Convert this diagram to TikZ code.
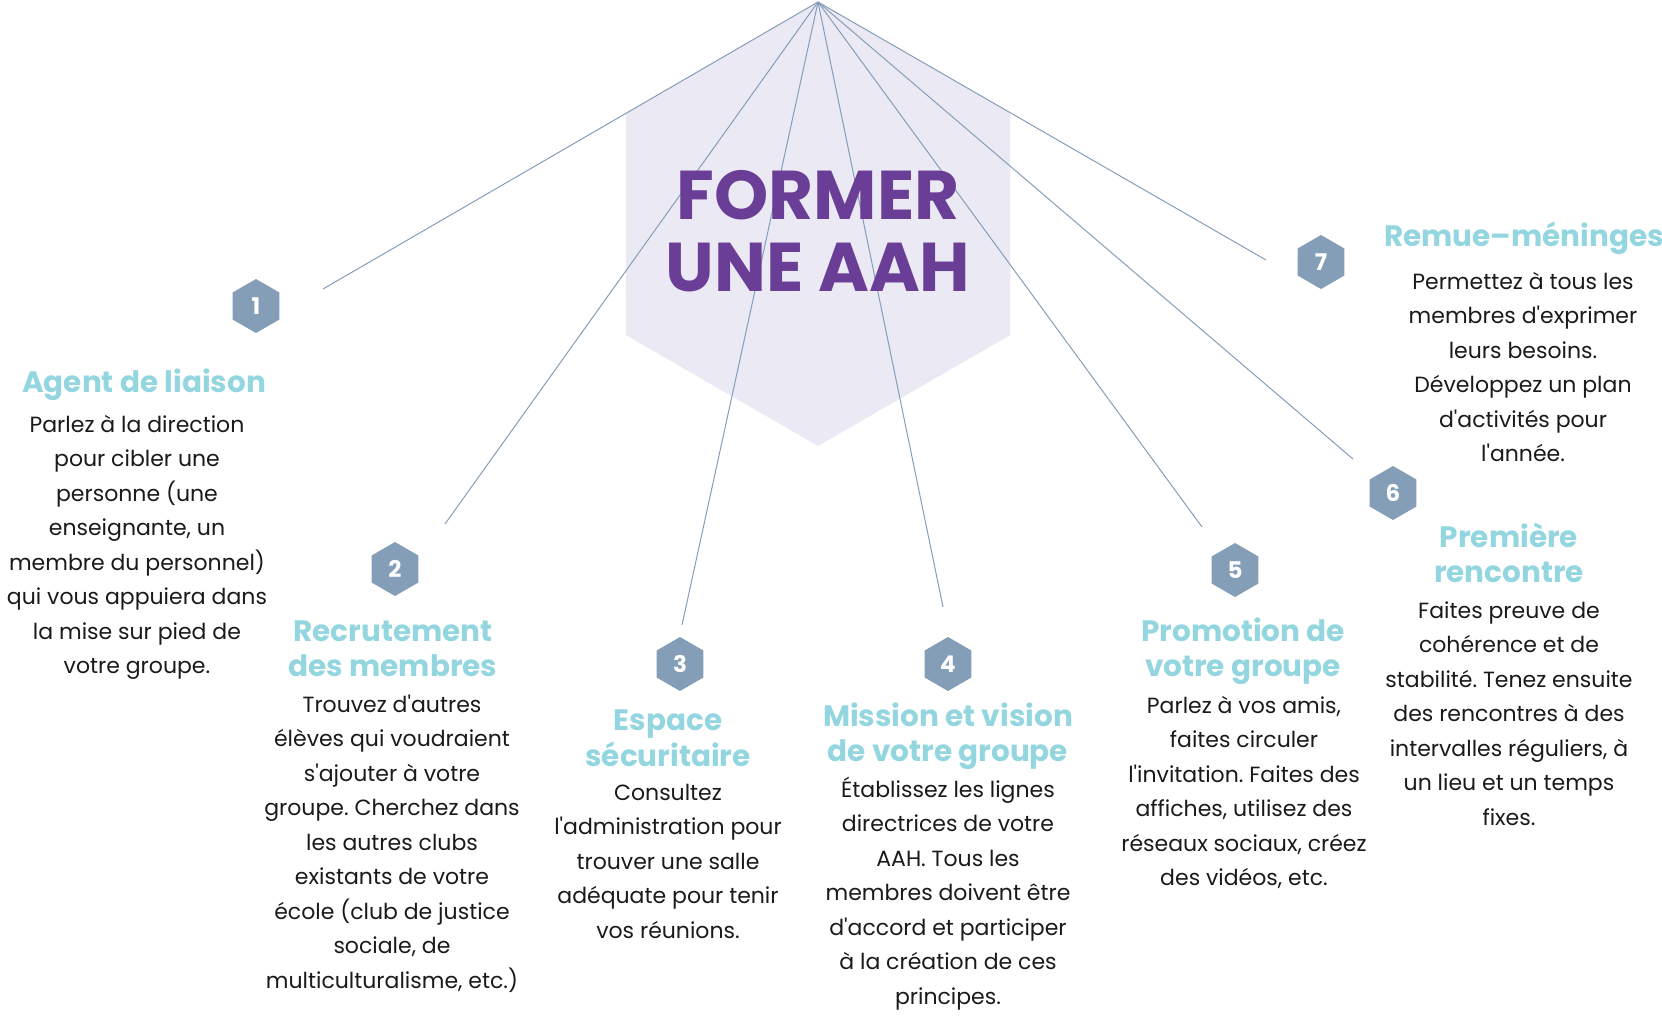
\documentclass[tikz,border=0pt]{standalone}
\usepackage{fontspec}
\setmainfont{Poppins}[Ligatures=TeXOff]
\usetikzlibrary{shapes.geometric}
\definecolor{hubfill}{RGB}{235,233,244}
\definecolor{plum}{RGB}{106,61,150}
\definecolor{slate}{RGB}{133,158,184}
\definecolor{aqua}{RGB}{147,214,223}
\definecolor{ink}{RGB}{26,26,26}
\frenchspacing

\begin{document}
\begin{tikzpicture}[x=1pt, y=-1pt,
    hub/.style={regular polygon, regular polygon sides=6, shape border rotate=30,
                fill=hubfill, minimum size=444pt, inner sep=0pt, outer sep=0pt},
    stepnum/.style={regular polygon, regular polygon sides=6, shape border rotate=30,
                fill=slate, minimum size=54pt, inner sep=0pt, outer sep=0pt,
                text=white, font=\fontsize{23}{23}\selectfont\bfseries},
    spoke/.style={draw=slate, line width=1pt},
    head/.style={font=\fontsize{29.5}{35}\selectfont\bfseries, text=aqua,
                 align=center, inner sep=0pt, anchor=north, yshift=24.5pt},
    body/.style={font=\fontsize{22}{34.5}\selectfont, text=ink,
                 align=center, inner sep=0pt, anchor=north, yshift=24.15pt},
]
\useasboundingbox (0,0) rectangle (1662,1023);

% ─── Central hexagon ─────────────────────────────────────────────
\node[hub] (hub) at (818, 224) {};
\coordinate (apex) at (818, 2);

% ─── Free ends of the spokes ─────────────────────────────────────
\coordinate (e1) at (323, 289);
\coordinate (e2) at (445, 524);
\coordinate (e3) at (682, 625);
\coordinate (e4) at (943, 607);
\coordinate (e5) at (1202, 527);
\coordinate (e6) at (1353, 459);
\coordinate (e7) at (1266, 260);

\foreach \i in {1,...,7}
  \draw[spoke] (apex) -- (e\i);

\node[font=\fontsize{69}{72}\selectfont\bfseries, text=plum, align=center,
      inner sep=0pt] (title) at (818, 231) {FORMER\\UNE AAH};

% ─── Numbered steps ──────────────────────────────────────────────
\node[stepnum] (n1) at (256, 306) {1};
\node[stepnum] (n2) at (395, 569) {2};
\node[stepnum] (n3) at (680, 664) {3};
\node[stepnum] (n4) at (948, 664) {4};
\node[stepnum] (n5) at (1235, 570) {5};
\node[stepnum] (n6) at (1393, 493) {6};
\node[stepnum] (n7) at (1321, 262) {7};

% ─── Step 1 ──────────────────────────────────────────────────────
\node[head] (h1) at (144, 392) {\strut Agent de liaison};
\node[body] (t1) at (137, 432) {\strut Parlez à la direction\\pour cibler une\\
  personne (une\\enseignante, un\\membre du personnel)\\
  qui vous appuiera dans\\la mise sur pied de\\votre groupe.};

% ─── Step 2 ──────────────────────────────────────────────────────
\node[head] (h2) at (393, 641) {\strut Recrutement\\des membres};
\node[body] (t2) at (392, 712) {\strut Trouvez d'autres\\élèves qui voudraient\\
  s'ajouter à votre\\groupe. Cherchez dans\\les autres clubs\\
  existants de votre\\école (club de justice\\sociale, de\\
  multiculturalisme, etc.)};

% ─── Step 3 ──────────────────────────────────────────────────────
\node[head] (h3) at (668, 730) {\strut Espace\\sécuritaire};
\node[body] (t3) at (668, 800) {\strut Consultez\\l'administration pour\\
  trouver une salle\\adéquate pour tenir\\vos réunions.};

% ─── Step 4 ──────────────────────────────────────────────────────
\node[head] (h4) at (948, 726) {\strut Mission et vision\\de votre groupe};
\node[body] (t4) at (948, 797) {\strut Établissez les lignes\\directrices de votre\\
  AAH. Tous les\\membres doivent être\\d'accord et participer\\
  à la création de ces\\principes.};

% ─── Step 5 ──────────────────────────────────────────────────────
\node[head] (h5) at (1243, 641) {\strut Promotion de\\votre groupe};
\node[body] (t5) at (1244, 713) {\strut Parlez à vos amis,\\faites circuler\\
  l'invitation. Faites des\\affiches, utilisez des\\
  réseaux sociaux, créez\\des vidéos, etc.};

% ─── Step 6 ──────────────────────────────────────────────────────
\node[head] (h6) at (1509, 547) {\strut Première\\rencontre};
\node[body] (t6) at (1509, 618) {\strut Faites preuve de\\cohérence et de\\
  stabilité. Tenez ensuite\\des rencontres à des\\
  intervalles réguliers, à\\un lieu et un temps\\fixes.};

% ─── Step 7 ──────────────────────────────────────────────────────
\node[head] (h7) at (1524, 246) {\strut Remue–méninges};
\node[body] (t7) at (1523, 289) {\strut Permettez à tous les\\membres d'exprimer\\
  leurs besoins.\\Développez un plan\\d'activités pour\\l'année.};

\end{tikzpicture}
\end{document}
